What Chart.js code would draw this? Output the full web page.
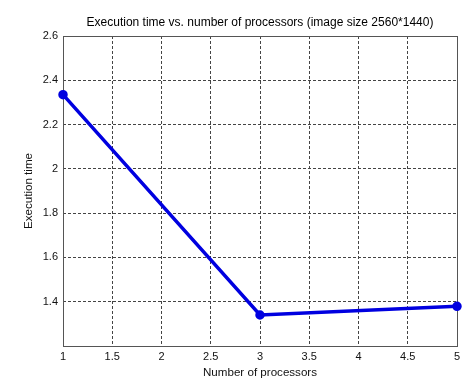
<!DOCTYPE html>
<html><head><meta charset="utf-8">
<script src="https://cdn.jsdelivr.net/npm/chart.js@4"></script>
<style>html,body{margin:0;padding:0;background:#fff}#wrap{width:474px;height:387px}</style>
</head><body><div id="wrap"><canvas id="c" width="474" height="387"></canvas></div>
<script>
const processors = [1, 3, 5];
const execTime = [2.335, 1.34, 1.379];
const xTicks = [1, 1.5, 2, 2.5, 3, 3.5, 4, 4.5, 5];
const yTicks = [1.2, 1.4, 1.6, 1.8, 2, 2.2, 2.4, 2.6];
const FONT = "'Liberation Sans', Arial, sans-serif";

const boxPlugin = {
  id: 'box',
  beforeDatasetsDraw(chart) {
    const {ctx, chartArea: a} = chart;
    ctx.save();
    ctx.strokeStyle = '#555';
    ctx.lineWidth = 1;
    ctx.setLineDash([]);
    ctx.strokeRect(Math.round(a.left) + 0.5, Math.round(a.top) + 0.5, Math.round(a.right - a.left), Math.round(a.bottom - a.top));
    ctx.restore();
  }
};

new Chart(document.getElementById('c'), {
  type: 'line',
  data: {
    datasets: [{
      data: processors.map((p, i) => ({x: p, y: execTime[i]})),
      borderColor: '#0000e0',
      backgroundColor: '#0000e0',
      borderWidth: 3.5,
      pointRadius: 3,
      pointHoverRadius: 3,
      tension: 0,
      clip: false
    }]
  },
  options: {
    responsive: false,
    animation: false,
    layout: {padding: {left: 0, right: 17, top: 0, bottom: 0}},
    plugins: {
      legend: {display: false},
      tooltip: {enabled: false},
      title: {
        display: true,
        text: 'Execution time vs. number of processors (image size 2560*1440)',
        fullSize: false,
        color: '#000',
        font: {family: FONT, size: 12, weight: 'normal', lineHeight: 1.2},
        padding: {top: 15, bottom: 6.6}
      }
    },
    scales: {
      x: {
        type: 'linear',
        min: 1, max: 5,
        afterBuildTicks(s) { s.ticks = xTicks.map(v => ({value: v})); },
        afterFit(s) { s.height = 41; },
        ticks: {
          color: '#111', padding: 4, maxRotation: 0, autoSkip: false,
          font: {family: FONT, size: 11},
          callback: v => String(v)
        },
        grid: {color: '#444', lineWidth: 1, drawTicks: false},
        border: {display: false, dash: [3, 2]},
        title: {
          display: true, text: 'Number of processors', color: '#111',
          font: {family: FONT, size: 11.6}, padding: {top: 0, bottom: 7}
        }
      },
      y: {
        type: 'linear',
        min: 1.2, max: 2.6,
        afterBuildTicks(s) { s.ticks = yTicks.map(v => ({value: v})); },
        afterFit(s) { s.width = 63; },
        ticks: {
          color: '#111', padding: 5, autoSkip: false,
          font: {family: FONT, size: 11},
          callback: v => (Math.abs(v - 1.2) < 1e-9 ? '' : String(Math.round(v * 10) / 10))
        },
        grid: {color: '#444', lineWidth: 1, drawTicks: false},
        border: {display: false, dash: [3, 2]},
        title: {
          display: true, text: 'Execution time', color: '#111',
          font: {family: FONT, size: 11.6}, padding: {top: 22, bottom: 0}
        }
      }
    }
  },
  plugins: [boxPlugin]
});
</script></body></html>
